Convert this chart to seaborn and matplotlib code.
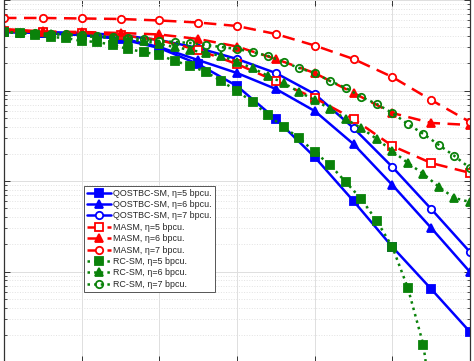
import matplotlib
matplotlib.use("Agg")
import matplotlib.pyplot as plt
import seaborn as sns

# SNR grids (dB): QOSTBC-SM / MASM every 2.5 dB, RC-SM every 1 dB
snr_coarse = [0, 2.5, 5, 7.5, 10, 12.5, 15, 17.5, 20, 22.5, 25, 27.5, 30]
snr_fine = list(range(0, 31))

qostbc_5 = [0.443, 0.432, 0.410, 0.371, 0.295, 0.196, 0.112, 0.0484, 0.0184,
            0.00601, 0.00187, 0.000641, 0.000215]
qostbc_6 = [0.443, 0.432, 0.410, 0.380, 0.302, 0.217, 0.156, 0.104, 0.0594,
            0.0256, 0.00903, 0.00303, 0.000987]
qostbc_7 = [0.454, 0.443, 0.432, 0.410, 0.361, 0.295, 0.223, 0.156, 0.0915,
            0.0385, 0.0143, 0.00491, 0.00164]

masm_5 = [0.454, 0.443, 0.432, 0.410, 0.361, 0.280, 0.196, 0.127, 0.0826,
          0.0484, 0.0244, 0.0158, 0.0123]
masm_6 = [0.478, 0.449, 0.443, 0.432, 0.416, 0.371, 0.306, 0.223, 0.156,
          0.0939, 0.0564, 0.0438, 0.0416]
masm_7 = [0.633, 0.633, 0.625, 0.617, 0.594, 0.564, 0.516, 0.421, 0.314,
          0.223, 0.141, 0.0785, 0.0449]

rcsm_5 = [0.443, 0.432, 0.410, 0.390, 0.380, 0.352, 0.344, 0.318, 0.287, 0.266,
          0.247, 0.212, 0.187, 0.160, 0.127, 0.0987, 0.0746, 0.0536, 0.0395,
          0.0299, 0.0209, 0.0150, 0.00975, 0.00633, 0.00361, 0.00187, 0.000657,
          0.000154, 0.0000083]
rcsm_6 = [0.443, 0.432, 0.421, 0.421, 0.410, 0.400, 0.390, 0.380, 0.361, 0.352,
          0.327, 0.302, 0.280, 0.260, 0.241, 0.207, 0.177, 0.145, 0.121, 0.0963,
          0.0785, 0.0625, 0.0484, 0.0385, 0.0291, 0.0215, 0.0158, 0.0120,
          0.00859, 0.00649, 0.00586]
rcsm_7 = [0.443, 0.432, 0.432, 0.421, 0.421, 0.410, 0.400, 0.390, 0.380, 0.371,
          0.352, 0.344, 0.335, 0.318, 0.302, 0.287, 0.266, 0.241, 0.207, 0.177,
          0.156, 0.127, 0.107, 0.0848, 0.0709, 0.0564, 0.0426, 0.0331, 0.0250,
          0.0189, 0.0139]

labels = [
    "QOSTBC-SM, η=5 bpcu.", "QOSTBC-SM, η=6 bpcu.", "QOSTBC-SM, η=7 bpcu.",
    "MASM, η=5 bpcu.", "MASM, η=6 bpcu.", "MASM, η=7 bpcu.",
    "RC-SM, η=5 bpcu.", "RC-SM, η=6 bpcu.", "RC-SM, η=7 bpcu.",
]

blue, red, green = "#0000ff", "#ff0000", "#0a820a"

sns.set_style("whitegrid")
plt.rcParams["font.family"] = ["Liberation Sans", "DejaVu Sans"]

fig = plt.figure(figsize=(4.74, 3.61), dpi=100)
ax = fig.add_axes([4 / 474, -1 / 361, 466 / 474, 362 / 361])
ax.set_yscale("log")

series = [
    (snr_coarse, qostbc_5, blue, "s", "-", blue),
    (snr_coarse, qostbc_6, blue, "^", "-", blue),
    (snr_coarse, qostbc_7, blue, "o", "-", "white"),
    (snr_coarse, masm_5, red, "s", (0, (5, 3)), "white"),
    (snr_coarse, masm_6, red, "^", (0, (5, 3)), red),
    (snr_coarse, masm_7, red, "o", (0, (5, 3)), "white"),
    (snr_fine[:len(rcsm_5)], rcsm_5, green, "s", ":", green),
    (snr_fine, rcsm_6, green, "^", ":", green),
    (snr_fine, rcsm_7, green, "o", ":", "none"),
]

for (x, y, c, m, ls, mfc), lab in zip(series, labels):
    sns.lineplot(x=x, y=y, ax=ax, color=c, marker=m, linestyle=ls,
                 linewidth=1.8, markersize=5.3, markerfacecolor=mfc,
                 markeredgecolor=c, markeredgewidth=1.3, label=lab,
                 errorbar=None, sort=False)

ax.set_xlim(0, 30)
ax.set_ylim(1e-4, 1)
ax.set_xticks([0, 5, 10, 15, 20, 25, 30])
ax.grid(which="major", color="#dedede", linewidth=0.7, linestyle="-")
ax.grid(which="minor", axis="y", color="#e2e2e2", linewidth=0.7, linestyle=":")
ax.tick_params(which="both", direction="in", bottom=True, left=True, top=True,
               right=True, labelbottom=False, labelleft=False, color="#333333")
ax.tick_params(which="major", length=4, width=0.7)
ax.tick_params(which="minor", length=2, width=0.6)
for side in ["left", "right", "bottom"]:
    ax.spines[side].set_color("#333333")
    ax.spines[side].set_linewidth(0.9)
ax.spines["top"].set_visible(False)

leg = ax.legend(loc="upper left", bbox_to_anchor=(84 / 474, 1 - 186 / 361),
                bbox_transform=fig.transFigure, fontsize=6.4, handlelength=2.7,
                handletextpad=0.3, labelspacing=0.27, borderpad=0.3,
                borderaxespad=0, fancybox=False, framealpha=1, numpoints=1)
leg.get_frame().set_edgecolor("#555555")
leg.get_frame().set_linewidth(0.7)

fig.savefig("out.png", dpi=100)
